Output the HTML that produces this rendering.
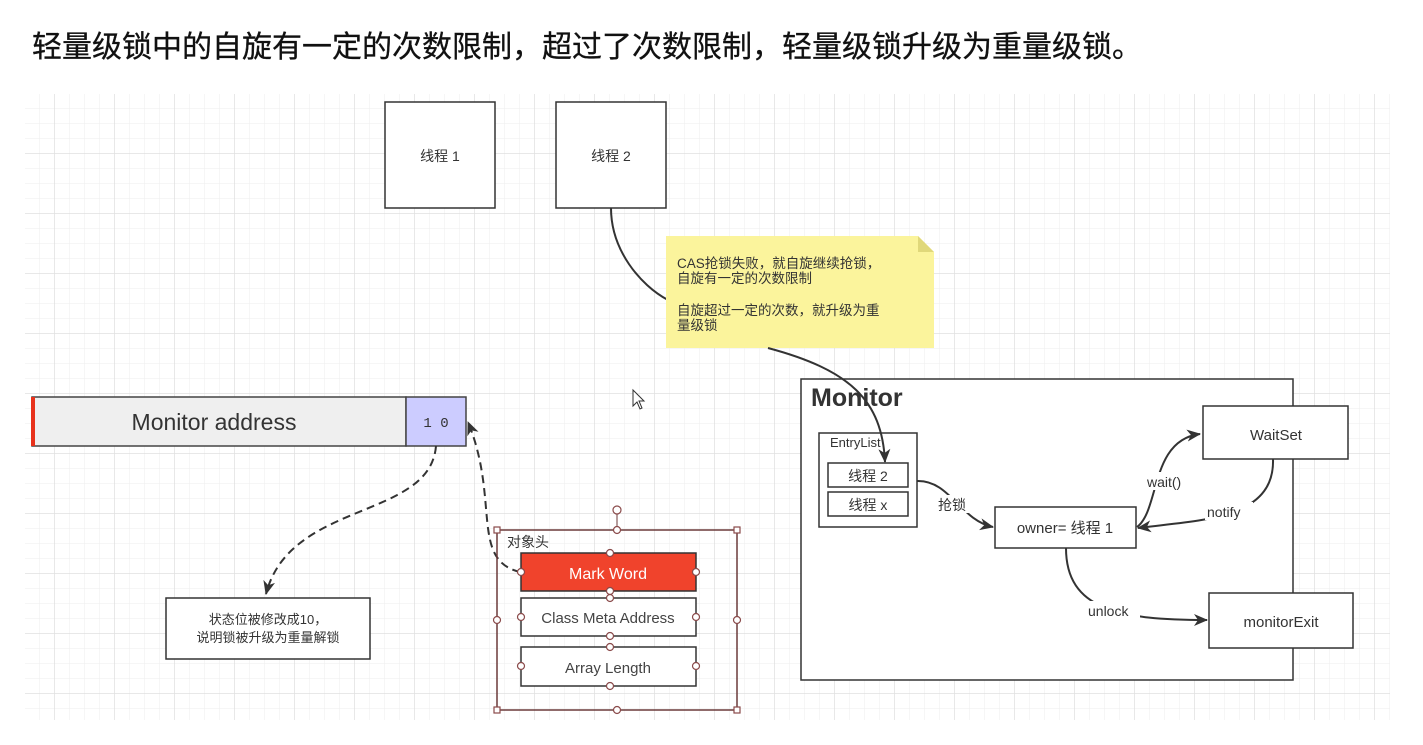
<!DOCTYPE html>
<html><head><meta charset="utf-8"><style>
body{margin:0;width:1423px;height:745px;background:#fff;overflow:hidden;font-family:"Liberation Sans","Noto Sans CJK SC",sans-serif;}
</style></head><body>
<svg width="1423" height="745" xmlns="http://www.w3.org/2000/svg" style="position:absolute;left:0;top:0">
<defs>
<pattern id="g1" x="25" y="94" width="15" height="15" patternUnits="userSpaceOnUse"><path d="M15 0V15M0 15H15" stroke="#ededed" stroke-width="1" fill="none"/></pattern>
<pattern id="g2" x="-5" y="94" width="60" height="60" patternUnits="userSpaceOnUse"><path d="M60 0V60M0 60H60" stroke="#e0e0e0" stroke-width="1.5" fill="none"/></pattern>
<marker id="a" markerWidth="14" markerHeight="14" refX="13" refY="7" orient="auto" markerUnits="userSpaceOnUse"><path d="M0 1L14 7L0 13L4 7Z" fill="#333"/></marker>
</defs>
<rect x="25" y="94" width="1365" height="626" fill="url(#g1)"/>
<rect x="25" y="94" width="1365" height="626" fill="url(#g2)"/>
<text x="32" y="57" font-size="30" fill="#111" stroke="#111" stroke-width="0.3">轻量级锁中的自旋有一定的次数限制，超过了次数限制，轻量级锁升级为重量级锁。</text>
<g fill="#fff" stroke="#333" stroke-width="1.5">
<rect x="385" y="102" width="110" height="106"/><rect x="556" y="102" width="110" height="106"/>
</g>
<g font-size="14" fill="#333" text-anchor="middle">
<text x="440" y="161">线程 1</text><text x="611" y="161">线程 2</text></g>
<path d="M611 208C611 250 640 285 668 300" stroke="#333" stroke-width="2" fill="none"/>
<path d="M666 236H918L934 252V348H666Z" fill="#fbf49c"/>
<path d="M918 236V252H934" fill="#e0d87a"/>
<g font-size="13.5" fill="#333"><text x="677" y="268">CAS抢锁失败，就自旋继续抢锁，</text><text x="677" y="283">自旋有一定的次数限制</text><text x="677" y="315">自旋超过一定的次数，就升级为重</text><text x="677" y="330">量级锁</text></g>
<rect x="32" y="397" width="374" height="49" fill="#efefef" stroke="#444" stroke-width="1.5"/>
<rect x="31" y="397" width="4" height="49" fill="#e8321c"/>
<text x="214" y="430" font-size="23" fill="#333" text-anchor="middle">Monitor address</text>
<rect x="406" y="397" width="60" height="49" fill="#ccccff" stroke="#444" stroke-width="1.5"/>
<text x="436" y="427" font-size="14" fill="#333" text-anchor="middle" font-family="Liberation Mono,monospace">1 0</text>
<path d="M436 446C430 520 290 500 266 594" stroke="#333" stroke-width="2" stroke-dasharray="8,5" fill="none" marker-end="url(#a)"/>
<rect x="166" y="598" width="204" height="61" fill="#fff" stroke="#333" stroke-width="1.5"/>
<g font-size="13" fill="#333" text-anchor="middle"><text x="268" y="624">状态位被修改成10，</text><text x="268" y="642">说明锁被升级为重量解锁</text></g>
<path d="M520 572C470 560 500 500 468 422" stroke="#333" stroke-width="2" stroke-dasharray="8,5" fill="none" marker-end="url(#a)"/>
<rect x="497" y="530" width="240" height="180" fill="none" stroke="#6b3a3a" stroke-width="1.5"/>
<line x1="617" y1="510" x2="617" y2="530" stroke="#6b3a3a"/>
<text x="507" y="547" font-size="14" fill="#333">对象头</text>
<rect x="521" y="553" width="175" height="38" fill="#f0432c" stroke="#333" stroke-width="1.5"/>
<text x="608" y="579" font-size="16" fill="#fff" text-anchor="middle">Mark Word</text>
<rect x="521" y="598" width="175" height="38" fill="#fff" stroke="#333" stroke-width="1.5"/>
<text x="608" y="623" font-size="15" fill="#444" text-anchor="middle">Class Meta Address</text>
<rect x="521" y="647" width="175" height="39" fill="#fff" stroke="#333" stroke-width="1.5"/>
<text x="608" y="673" font-size="15" fill="#444" text-anchor="middle">Array Length</text>
<g fill="#fff" stroke="#8a4a4a" stroke-width="1.2">
<circle cx="617" cy="510" r="4"/><circle cx="617" cy="530" r="3.5"/><circle cx="617" cy="710" r="3.5"/><circle cx="497" cy="620" r="3.5"/><circle cx="737" cy="620" r="3.5"/>
<rect x="494" y="527" width="6" height="6"/><rect x="734" y="527" width="6" height="6"/><rect x="494" y="707" width="6" height="6"/><rect x="734" y="707" width="6" height="6"/>
<circle cx="610" cy="553" r="3.5"/><circle cx="610" cy="591" r="3.5"/><circle cx="521" cy="572" r="3.5"/><circle cx="696" cy="572" r="3.5"/>
<circle cx="610" cy="598" r="3.5"/><circle cx="610" cy="636" r="3.5"/><circle cx="521" cy="617" r="3.5"/><circle cx="696" cy="617" r="3.5"/>
<circle cx="610" cy="647" r="3.5"/><circle cx="610" cy="686" r="3.5"/><circle cx="521" cy="666" r="3.5"/><circle cx="696" cy="666" r="3.5"/>
</g>
<rect x="801" y="379" width="492" height="301" fill="#fff" stroke="#333" stroke-width="1.5"/>
<text x="811" y="406" font-size="25" font-weight="bold" fill="#333">Monitor</text>
<rect x="819" y="433" width="98" height="94" fill="#fff" stroke="#333" stroke-width="1.5"/>
<text x="830" y="447" font-size="13" fill="#333">EntryList</text>
<rect x="828" y="463" width="80" height="24" fill="#fff" stroke="#333" stroke-width="1.5"/>
<rect x="828" y="492" width="80" height="24" fill="#fff" stroke="#333" stroke-width="1.5"/>
<g font-size="14" fill="#333" text-anchor="middle"><text x="868" y="481">线程 2</text><text x="868" y="510">线程 x</text></g>
<path d="M768 348C850 370 882 400 885 462" stroke="#333" stroke-width="2" fill="none" marker-end="url(#a)"/>
<rect x="995" y="507" width="141" height="41" fill="#fff" stroke="#333" stroke-width="1.5"/>
<text x="1065" y="533" font-size="15" fill="#333" text-anchor="middle">owner= 线程 1</text>
<rect x="1203" y="406" width="145" height="53" fill="#fff" stroke="#333" stroke-width="1.5"/>
<text x="1276" y="440" font-size="15" fill="#333" text-anchor="middle">WaitSet</text>
<rect x="1209" y="593" width="144" height="55" fill="#fff" stroke="#333" stroke-width="1.5"/>
<text x="1281" y="627" font-size="15" fill="#333" text-anchor="middle">monitorExit</text>
<path d="M917 481C950 480 960 520 993 527" stroke="#333" stroke-width="2" fill="none" marker-end="url(#a)"/>
<path d="M1137 527C1160 510 1150 440 1200 434" stroke="#333" stroke-width="2" fill="none" marker-end="url(#a)"/>
<path d="M1273 459C1275 520 1200 520 1138 528" stroke="#333" stroke-width="2" fill="none" marker-end="url(#a)"/>
<path d="M1066 548C1066 610 1120 620 1207 620" stroke="#333" stroke-width="2" fill="none" marker-end="url(#a)"/>
<g font-size="14" fill="#333"><rect x="936" y="495" width="36" height="18" fill="#fff"/><text x="938" y="510">抢锁</text>
<rect x="1145" y="472" width="46" height="18" fill="#fff"/><text x="1147" y="487">wait()</text>
<rect x="1205" y="502" width="48" height="18" fill="#fff"/><text x="1207" y="517">notify</text>
<rect x="1086" y="601" width="54" height="18" fill="#fff"/><text x="1088" y="616">unlock</text></g>
<path d="M633 390V406L637 402L640 409L642 408L639 401H644Z" fill="#fff" stroke="#333" stroke-width="1"/>
</svg>
</body></html>
